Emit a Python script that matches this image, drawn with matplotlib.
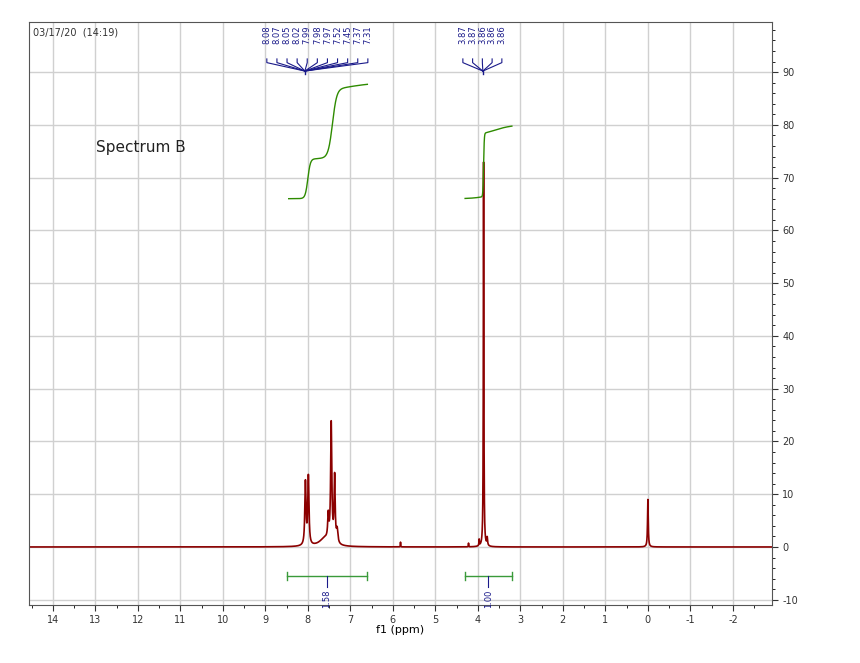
import numpy as np
import matplotlib
matplotlib.use("Agg")
import matplotlib.pyplot as plt
from matplotlib.ticker import MultipleLocator

plt.rcParams['axes.unicode_minus'] = False

# peak data (ppm, height, half-width)
peak_ppm = [8.06, 8.05, 7.99, 7.98, 7.52, 7.45, 7.37, 7.31, 3.865, 0.0, 5.82, 4.22, 3.97, 3.78]
peak_h   = [9.0, 4.0, 10.0, 4.0, 4.5, 22.5, 12.5, 2.5, 73.0, 9.0, 0.9, 0.7, 1.2, 1.5]
peak_w   = [0.015, 0.015, 0.015, 0.015, 0.015, 0.016, 0.015, 0.02, 0.007, 0.01, 0.004, 0.004, 0.006, 0.01]

labels1 = ["8.08", "8.07", "8.05", "8.02", "7.99", "7.98", "7.97", "7.52", "7.45", "7.37", "7.31"]
labels2 = ["3.87", "3.87", "3.86", "3.86", "3.86"]

int_ranges = [(8.5, 6.6), (4.3, 3.2)]
int_values = ["1.58", "1.00"]

fig = plt.figure(figsize=(8.6, 6.63), dpi=100)
ax = fig.add_axes([29/860, 1-605/663, (772-29)/860, (605-22)/663])

x = np.linspace(14.6, -3.0, 20000)
y = np.zeros_like(x)
for p, h, w in zip(peak_ppm, peak_h, peak_w):
    y += h * w**2 / ((x - p)**2 + w**2)
y += 1.5 * 0.15**2 / ((x - 7.6)**2 + 0.15**2)
ax.plot(x, y, color="#8b0000", lw=1.2)

ax.set_xlim(14.56, -2.92)
ax.set_ylim(-11, 99.5)
ax.xaxis.set_major_locator(MultipleLocator(1))
ax.xaxis.set_minor_locator(MultipleLocator(0.5))
ax.yaxis.set_major_locator(MultipleLocator(10))
ax.yaxis.set_minor_locator(MultipleLocator(2))
ax.yaxis.tick_right()
ax.grid(True, which="major", color="#d0d0d0", lw=1.0)
ax.set_axisbelow(True)
ax.tick_params(axis="both", labelsize=7, colors="#333333", direction="out", length=4)
ax.tick_params(axis="both", which="minor", length=2)
ax.set_xlabel("f1 (ppm)", fontsize=8, labelpad=0)
for s in ax.spines.values():
    s.set_color("#555555")

def integral(xa, xb, steps, y0, y1):
    xs = np.linspace(xa, xb, 300)
    ys = np.full_like(xs, y0)
    total = sum(a for _, a, _ in steps)
    for pos, amt, wd in steps:
        ys += (y1 - y0) * amt / total / (1 + np.exp((xs - pos) / wd))
    return xs, ys
xs, ys = integral(8.45, 6.6, [(8.0, 7.5, 0.03), (7.42, 13, 0.05), (7.0, 1.5, 0.3)], 66, 88)
ax.plot(xs, ys, color="#2e8b00", lw=1)
xs, ys = integral(4.3, 3.2, [(3.865, 12, 0.008), (3.6, 2, 0.2)], 66, 80)
ax.plot(xs, ys, color="#2e8b00", lw=1)

for (a, b), v in zip(int_ranges, int_values):
    ax.plot([a, b], [-5.5, -5.5], color="#3a9a3a", lw=1)
    ax.plot([a, a], [-6.2, -4.8], color="#3a9a3a", lw=1)
    ax.plot([b, b], [-6.2, -4.8], color="#3a9a3a", lw=1)
    mid = (a + b) / 2
    ax.plot([mid, mid], [-5.5, -7.5], color="#1a1a8a", lw=0.8)
    ax.text(mid, -8, v, rotation=90, ha="center", va="top", fontsize=6, color="#1a1a8a")

def label_group(labels, x_start, x_end, conv):
    n = len(labels)
    xl = np.linspace(x_start, x_end, n)
    for lx, t in zip(xl, labels):
        ax.text(lx, 98.8, t, rotation=90, ha="center", va="top", fontsize=6, color="#1a1a8a")
        ax.plot([lx, lx, conv], [92.5, 91.8, 90.2], color="#1a1a8a", lw=0.8)
    ax.plot([conv, conv], [90.2, 89.6], color="#1a1a8a", lw=1)
def px2ppm(px):
    return 14 - (px - 53) / 42.5
label_group(labels1, px2ppm(267), px2ppm(368), px2ppm(305))
label_group(labels2, px2ppm(463), px2ppm(502), px2ppm(483))

ax.text(0.005, 0.99, "03/17/20  (14:19)", transform=ax.transAxes, fontsize=7, color="#333333", va="top")
ax.text(px2ppm(96), 75.8, "Spectrum B", fontsize=11, color="#222222", va="center")

fig.savefig("out.png", dpi=100)
